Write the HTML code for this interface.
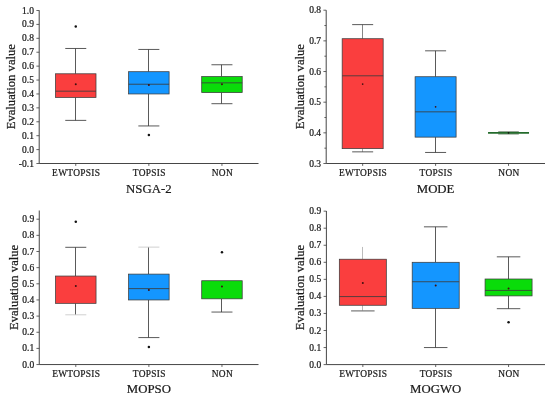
<!DOCTYPE html>
<html><head><meta charset="utf-8"><title>Box plots</title>
<style>
html,body{margin:0;padding:0;background:#fff;}
svg{display:block;}
text{font-family:"Liberation Serif",serif;fill:#1a1a1a;stroke:#1a1a1a;stroke-width:0.22px;}
.t{font-size:9.5px;}
.c{font-size:9.4px;letter-spacing:0.3px;}
.ti{font-size:12.8px;}
.yl{font-size:12.65px;}
</style></head><body>
<svg width="550" height="399" viewBox="0 0 550 399">
<rect width="550" height="399" fill="#fff"/>
<path d="M39.2 10.3V163.51H258.5" fill="none" stroke="#3c3c3c" stroke-width="0.95"/>
<text x="33.9" y="166.51" text-anchor="end" class="t">-0.1</text>
<text x="33.9" y="152.6" text-anchor="end" class="t">0.0</text>
<text x="33.9" y="138.69" text-anchor="end" class="t">0.1</text>
<text x="33.9" y="124.78" text-anchor="end" class="t">0.2</text>
<text x="33.9" y="110.87" text-anchor="end" class="t">0.3</text>
<text x="33.9" y="96.96" text-anchor="end" class="t">0.4</text>
<text x="33.9" y="83.05" text-anchor="end" class="t">0.5</text>
<text x="33.9" y="69.14" text-anchor="end" class="t">0.6</text>
<text x="33.9" y="55.23" text-anchor="end" class="t">0.7</text>
<text x="33.9" y="41.32" text-anchor="end" class="t">0.8</text>
<text x="33.9" y="27.41" text-anchor="end" class="t">0.9</text>
<text x="33.9" y="13.5" text-anchor="end" class="t">1.0</text>
<path d="M36.4 163.51H39.2M36.4 149.6H39.2M36.4 135.69H39.2M36.4 121.78H39.2M36.4 107.87H39.2M36.4 93.96H39.2M36.4 80.05H39.2M36.4 66.14H39.2M36.4 52.23H39.2M36.4 38.32H39.2M36.4 24.41H39.2M36.4 10.5H39.2M75.75 163.51V165.91M148.85 163.51V165.91M221.95 163.51V165.91" fill="none" stroke="#3c3c3c" stroke-width="0.8"/>
<text x="76.15" y="176" text-anchor="middle" class="c">EWTOPSIS</text>
<text x="149.25" y="176" text-anchor="middle" class="c">TOPSIS</text>
<text x="222.35" y="176" text-anchor="middle" class="c">NON</text>
<text x="148.85" y="192.6" text-anchor="middle" class="ti">NSGA-2</text>
<text transform="translate(15.3 86.7) rotate(-90)" text-anchor="middle" class="yl">Evaluation value</text>
<path d="M75.5 73.79V48.47" stroke="#3c3c3c" stroke-width="0.85" fill="none"/>
<path d="M65.25 48.47H86.25" stroke="#3c3c3c" stroke-width="0.85" fill="none"/>
<path d="M75.5 97.44V120.39" stroke="#3c3c3c" stroke-width="0.85" fill="none"/>
<path d="M65.25 120.39H86.25" stroke="#3c3c3c" stroke-width="0.85" fill="none"/>
<rect x="55.5" y="73.79" width="40.5" height="23.65" fill="#FA3E3E" stroke="#3c3c3c" stroke-width="0.75"/>
<path d="M55.5 91.18H96" stroke="#3c3c3c" stroke-width="0.85" fill="none"/>
<circle cx="75.75" cy="84.22" r="1.0" fill="#401010"/>
<circle cx="75.75" cy="26.5" r="1.25" fill="#111"/>
<path d="M148.5 71.7V49.45" stroke="#3c3c3c" stroke-width="0.85" fill="none"/>
<path d="M138.35 49.45H159.35" stroke="#3c3c3c" stroke-width="0.85" fill="none"/>
<path d="M148.5 93.96V125.95" stroke="#3c3c3c" stroke-width="0.85" fill="none"/>
<path d="M138.35 125.95H159.35" stroke="#3c3c3c" stroke-width="0.85" fill="none"/>
<rect x="128.6" y="71.7" width="40.5" height="22.26" fill="#1496FF" stroke="#3c3c3c" stroke-width="0.75"/>
<path d="M128.6 84.22H169.1" stroke="#3c3c3c" stroke-width="0.85" fill="none"/>
<circle cx="148.85" cy="84.92" r="1.0" fill="#401010"/>
<circle cx="148.85" cy="134.99" r="1.25" fill="#111"/>
<path d="M221.5 76.57V64.75" stroke="#3c3c3c" stroke-width="0.85" fill="none"/>
<path d="M211.45 64.75H232.45" stroke="#3c3c3c" stroke-width="0.85" fill="none"/>
<path d="M221.5 92.57V103.7" stroke="#3c3c3c" stroke-width="0.85" fill="none"/>
<path d="M211.45 103.7H232.45" stroke="#3c3c3c" stroke-width="0.85" fill="none"/>
<rect x="201.7" y="76.57" width="40.5" height="16" fill="#0ADC0A" stroke="#3c3c3c" stroke-width="0.75"/>
<path d="M201.7 82.83H242.2" stroke="#3c3c3c" stroke-width="0.85" fill="none"/>
<circle cx="221.95" cy="84.22" r="1.0" fill="#401010"/>
<path d="M326.2 10.2V163.5H545" fill="none" stroke="#3c3c3c" stroke-width="0.95"/>
<text x="321" y="166.5" text-anchor="end" class="t">0.3</text>
<text x="321" y="135.84" text-anchor="end" class="t">0.4</text>
<text x="321" y="105.18" text-anchor="end" class="t">0.5</text>
<text x="321" y="74.52" text-anchor="end" class="t">0.6</text>
<text x="321" y="43.86" text-anchor="end" class="t">0.7</text>
<text x="321" y="13.2" text-anchor="end" class="t">0.8</text>
<path d="M323.4 163.5H326.2M323.4 132.84H326.2M323.4 102.18H326.2M323.4 71.52H326.2M323.4 40.86H326.2M323.4 10.2H326.2M324.4 148.17H326.2M324.4 117.51H326.2M324.4 86.85H326.2M324.4 56.19H326.2M324.4 25.53H326.2M362.67 163.5V165.9M435.6 163.5V165.9M508.53 163.5V165.9" fill="none" stroke="#3c3c3c" stroke-width="0.8"/>
<text x="363.07" y="176" text-anchor="middle" class="c">EWTOPSIS</text>
<text x="436" y="176" text-anchor="middle" class="c">TOPSIS</text>
<text x="508.93" y="176" text-anchor="middle" class="c">NON</text>
<text x="435.6" y="192.6" text-anchor="middle" class="ti">MODE</text>
<text transform="translate(304 86.7) rotate(-90)" text-anchor="middle" class="yl">Evaluation value</text>
<path d="M362.5 38.71V24.61" stroke="#707070" stroke-width="0.85" fill="none"/>
<path d="M352.17 24.61H373.17" stroke="#3c3c3c" stroke-width="0.85" fill="none"/>
<path d="M362.5 148.63V151.85" stroke="#999" stroke-width="0.85" fill="none"/>
<path d="M352.17 151.85H373.17" stroke="#3c3c3c" stroke-width="0.85" fill="none"/>
<rect x="342.17" y="38.71" width="41" height="109.92" fill="#FA3E3E" stroke="#3c3c3c" stroke-width="0.75"/>
<path d="M342.17 75.81H383.17" stroke="#3c3c3c" stroke-width="0.85" fill="none"/>
<circle cx="362.67" cy="84.09" r="0.85" fill="#401010"/>
<path d="M435.5 76.73V50.82" stroke="#3c3c3c" stroke-width="0.85" fill="none"/>
<path d="M425.1 50.82H446.1" stroke="#3c3c3c" stroke-width="0.85" fill="none"/>
<path d="M435.5 137.13V152.46" stroke="#3c3c3c" stroke-width="0.85" fill="none"/>
<path d="M425.1 152.46H446.1" stroke="#3c3c3c" stroke-width="0.85" fill="none"/>
<rect x="415.1" y="76.73" width="41" height="60.4" fill="#1496FF" stroke="#3c3c3c" stroke-width="0.75"/>
<path d="M415.1 111.84H456.1" stroke="#3c3c3c" stroke-width="0.85" fill="none"/>
<circle cx="435.6" cy="106.78" r="0.85" fill="#401010"/>
<path d="M508.5 132.84V132.84" stroke="#3c3c3c" stroke-width="0.85" fill="none"/>
<path d="M508.5 132.84V132.84" stroke="#3c3c3c" stroke-width="0.85" fill="none"/>
<rect x="488.03" y="132.84" width="41" height="0" fill="none" stroke="none" stroke-width="0.75"/>
<rect x="498.23" y="131.04" width="20.6" height="3.6" fill="#93a393"/><path d="M488.03 132.84H529.03" stroke="#246b2c" stroke-width="1.8"/><circle cx="508.53" cy="132.84" r="0.9" fill="#111"/>
<path d="M39.25 210.5V364.55H258.5" fill="none" stroke="#3c3c3c" stroke-width="0.95"/>
<text x="34.2" y="367.55" text-anchor="end" class="t">0.0</text>
<text x="34.2" y="351.4" text-anchor="end" class="t">0.1</text>
<text x="34.2" y="335.25" text-anchor="end" class="t">0.2</text>
<text x="34.2" y="319.1" text-anchor="end" class="t">0.3</text>
<text x="34.2" y="302.95" text-anchor="end" class="t">0.4</text>
<text x="34.2" y="286.8" text-anchor="end" class="t">0.5</text>
<text x="34.2" y="270.65" text-anchor="end" class="t">0.6</text>
<text x="34.2" y="254.5" text-anchor="end" class="t">0.7</text>
<text x="34.2" y="238.35" text-anchor="end" class="t">0.8</text>
<text x="34.2" y="222.2" text-anchor="end" class="t">0.9</text>
<path d="M36.45 364.55H39.25M36.45 348.4H39.25M36.45 332.25H39.25M36.45 316.1H39.25M36.45 299.95H39.25M36.45 283.8H39.25M36.45 267.65H39.25M36.45 251.5H39.25M36.45 235.35H39.25M36.45 219.2H39.25M75.79 364.55V366.95M148.88 364.55V366.95M221.96 364.55V366.95" fill="none" stroke="#3c3c3c" stroke-width="0.8"/>
<text x="76.19" y="377.4" text-anchor="middle" class="c">EWTOPSIS</text>
<text x="149.28" y="377.4" text-anchor="middle" class="c">TOPSIS</text>
<text x="222.36" y="377.4" text-anchor="middle" class="c">NON</text>
<text x="148.88" y="393.2" text-anchor="middle" class="ti">MOPSO</text>
<text transform="translate(17.8 287.45) rotate(-90)" text-anchor="middle" class="yl">Evaluation value</text>
<path d="M75.5 276.05V247.3" stroke="#3c3c3c" stroke-width="0.85" fill="none"/>
<path d="M65.29 247.3H86.29" stroke="#3c3c3c" stroke-width="0.85" fill="none"/>
<path d="M75.5 303.34V314.81" stroke="#3c3c3c" stroke-width="0.85" fill="none"/>
<path d="M65.29 314.81H86.29" stroke="#c8c8c8" stroke-width="0.85" fill="none"/>
<rect x="55.54" y="276.05" width="40.5" height="27.29" fill="#FA3E3E" stroke="#3c3c3c" stroke-width="0.75"/>
<circle cx="75.79" cy="286.06" r="1.0" fill="#401010"/>
<circle cx="75.79" cy="221.78" r="1.25" fill="#111"/>
<path d="M148.5 274.11V247.14" stroke="#3c3c3c" stroke-width="0.85" fill="none"/>
<path d="M138.38 247.14H159.38" stroke="#c8c8c8" stroke-width="0.85" fill="none"/>
<path d="M148.5 299.95V337.58" stroke="#3c3c3c" stroke-width="0.85" fill="none"/>
<path d="M138.38 337.58H159.38" stroke="#3c3c3c" stroke-width="0.85" fill="none"/>
<rect x="128.62" y="274.11" width="40.5" height="25.84" fill="#1496FF" stroke="#3c3c3c" stroke-width="0.75"/>
<path d="M128.62 288.64H169.12" stroke="#3c3c3c" stroke-width="0.85" fill="none"/>
<circle cx="148.88" cy="289.94" r="1.0" fill="#401010"/>
<circle cx="148.88" cy="346.95" r="1.25" fill="#111"/>
<path d="M221.5 280.73V280.73" stroke="#3c3c3c" stroke-width="0.85" fill="none"/>
<path d="M221.5 298.82V312.06" stroke="#3c3c3c" stroke-width="0.85" fill="none"/>
<path d="M211.46 312.06H232.46" stroke="#3c3c3c" stroke-width="0.85" fill="none"/>
<rect x="201.71" y="280.73" width="40.5" height="18.09" fill="#0ADC0A" stroke="#3c3c3c" stroke-width="0.75"/>
<circle cx="221.96" cy="286.38" r="1.0" fill="#401010"/>
<circle cx="221.96" cy="252.31" r="1.25" fill="#111"/>
<path d="M326.4 211V364.6H545" fill="none" stroke="#3c3c3c" stroke-width="0.95"/>
<text x="321.2" y="367.6" text-anchor="end" class="t">0.0</text>
<text x="321.2" y="350.55" text-anchor="end" class="t">0.1</text>
<text x="321.2" y="333.5" text-anchor="end" class="t">0.2</text>
<text x="321.2" y="316.45" text-anchor="end" class="t">0.3</text>
<text x="321.2" y="299.4" text-anchor="end" class="t">0.4</text>
<text x="321.2" y="282.35" text-anchor="end" class="t">0.5</text>
<text x="321.2" y="265.3" text-anchor="end" class="t">0.6</text>
<text x="321.2" y="248.25" text-anchor="end" class="t">0.7</text>
<text x="321.2" y="231.2" text-anchor="end" class="t">0.8</text>
<text x="321.2" y="214.15" text-anchor="end" class="t">0.9</text>
<path d="M323.6 364.6H326.4M323.6 347.55H326.4M323.6 330.5H326.4M323.6 313.45H326.4M323.6 296.4H326.4M323.6 279.35H326.4M323.6 262.3H326.4M323.6 245.25H326.4M323.6 228.2H326.4M323.6 211.15H326.4M362.83 364.6V367M435.7 364.6V367M508.57 364.6V367" fill="none" stroke="#3c3c3c" stroke-width="0.8"/>
<text x="363.23" y="377.4" text-anchor="middle" class="c">EWTOPSIS</text>
<text x="436.1" y="377.4" text-anchor="middle" class="c">TOPSIS</text>
<text x="508.97" y="377.4" text-anchor="middle" class="c">NON</text>
<text x="435.7" y="393.2" text-anchor="middle" class="ti">MOGWO</text>
<text transform="translate(303.6 287.5) rotate(-90)" text-anchor="middle" class="yl">Evaluation value</text>
<path d="M362.5 259.23V246.96" stroke="#b0b0b0" stroke-width="0.85" fill="none"/>
<path d="M362.5 305.27V310.89" stroke="#aaa" stroke-width="0.85" fill="none"/>
<path d="M351.08 310.89H374.58" stroke="#7d7d7d" stroke-width="1.25" fill="none"/>
<rect x="339.33" y="259.23" width="47" height="46.04" fill="#FA3E3E" stroke="#3c3c3c" stroke-width="0.75"/>
<path d="M339.33 296.57H386.33" stroke="#3c3c3c" stroke-width="0.85" fill="none"/>
<circle cx="362.83" cy="283.1" r="1.0" fill="#401010"/>
<path d="M435.5 262.3V226.84" stroke="#3c3c3c" stroke-width="0.85" fill="none"/>
<path d="M423.95 226.84H447.45" stroke="#3c3c3c" stroke-width="0.85" fill="none"/>
<path d="M435.5 308.34V347.55" stroke="#3c3c3c" stroke-width="0.85" fill="none"/>
<path d="M423.95 347.55H447.45" stroke="#3c3c3c" stroke-width="0.85" fill="none"/>
<rect x="412.2" y="262.3" width="47" height="46.04" fill="#1496FF" stroke="#3c3c3c" stroke-width="0.75"/>
<path d="M412.2 281.74H459.2" stroke="#3c3c3c" stroke-width="0.85" fill="none"/>
<circle cx="435.7" cy="285.49" r="1.0" fill="#401010"/>
<path d="M508.5 279.01V256.84" stroke="#3c3c3c" stroke-width="0.85" fill="none"/>
<path d="M496.82 256.84H520.32" stroke="#3c3c3c" stroke-width="0.85" fill="none"/>
<path d="M508.5 295.89V308.68" stroke="#3c3c3c" stroke-width="0.85" fill="none"/>
<path d="M496.82 308.68H520.32" stroke="#3c3c3c" stroke-width="0.85" fill="none"/>
<rect x="485.07" y="279.01" width="47" height="16.88" fill="#0ADC0A" stroke="#3c3c3c" stroke-width="0.75"/>
<path d="M485.07 290.43H532.07" stroke="#3c3c3c" stroke-width="0.85" fill="none"/>
<circle cx="508.57" cy="288.39" r="1.0" fill="#401010"/>
<circle cx="508.57" cy="322.32" r="1.25" fill="#111"/>
</svg>
</body></html>
